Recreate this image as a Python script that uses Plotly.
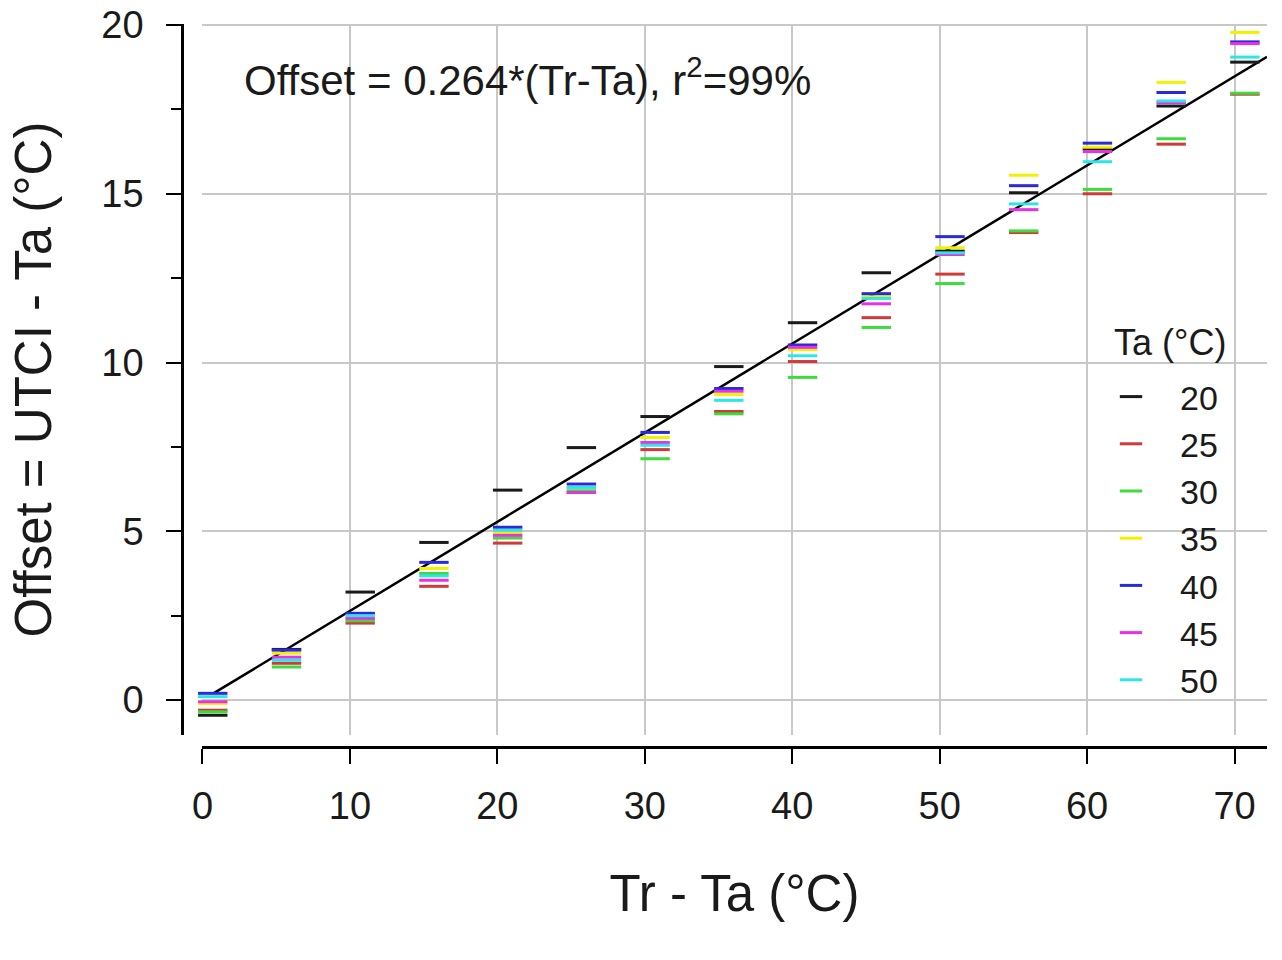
import plotly.graph_objects as go

# ---- data ----
tr_minus_ta = [0, 5, 10, 15, 20, 25, 30, 35, 40, 45, 50, 55, 60, 65, 70]
ta_levels = ["20", "25", "30", "35", "40", "45", "50"]

offset_ta20 = [-0.45, 1.50, 3.20, 4.67, 6.22, 7.48, 8.40, 9.88, 11.18, 12.66, 13.30, 15.03, 16.33, 17.60, 18.90]
offset_ta25 = [-0.30, 1.09, 2.28, 3.37, 4.65, 6.15, 7.42, 8.55, 10.03, 11.33, 12.62, 13.85, 15.00, 16.47, 17.95]
offset_ta30 = [-0.35, 0.98, 2.35, 3.75, 4.80, 6.20, 7.15, 8.48, 9.56, 11.04, 12.34, 13.90, 15.13, 16.63, 17.98]
offset_ta35 = [-0.10, 1.39, 2.45, 3.90, 4.95, 6.30, 7.78, 9.05, 10.38, 11.95, 13.40, 15.55, 16.38, 18.30, 19.78]
offset_ta40 = [0.20, 1.48, 2.57, 4.08, 5.12, 6.40, 7.93, 9.23, 10.52, 12.04, 13.73, 15.24, 16.50, 18.00, 19.50]
offset_ta45 = [-0.05, 1.27, 2.42, 3.55, 4.88, 6.15, 7.63, 9.15, 10.45, 11.74, 13.20, 14.53, 16.25, 17.70, 19.45]
offset_ta50 = [0.10, 1.18, 2.50, 3.68, 5.03, 6.30, 7.55, 8.88, 10.20, 11.90, 13.25, 14.70, 15.95, 17.75, 19.05]

fit_slope = 0.264
fit_x = [0.8, 72.2]

# ---- style ----
colors = ["#1a1a1a", "#d03a3a", "#3ddc3d", "#f2f200", "#2a2ad8", "#e632e6", "#2ee6e6"]
series = [offset_ta20, offset_ta25, offset_ta30, offset_ta35, offset_ta40, offset_ta45, offset_ta50]
dash_shift = 0.7  # dashes drawn just right of each x value
FONT = "Liberation Sans, Arial, sans-serif"
TXT = "#1a1a1a"

W, H = 1282, 960
L, R, T, B = 182, 15, 24, 213
pw = W - L - R
ph = H - T - B


def px_x(p):  # paper x fraction from pixel
    return (p - L) / pw


def px_y(p):  # paper y fraction from pixel
    return (H - B - p) / ph


fig = go.Figure()

fig.add_trace(go.Scatter(
    x=fit_x, y=[fit_slope * v for v in fit_x], mode="lines",
    line=dict(color="black", width=2.5), showlegend=False, hoverinfo="skip",
))

for name, vals, col in zip(ta_levels, series, colors):
    fig.add_trace(go.Scatter(
        x=[v + dash_shift for v in tr_minus_ta], y=vals, mode="markers", name=name,
        marker=dict(symbol="line-ew", size=21, color=col, line=dict(color=col, width=3)),
        cliponaxis=False,
    ))

fig.add_annotation(
    x=2.7, y=18.45, xref="x", yref="y", xanchor="left", yanchor="middle",
    text="Offset = 0.264*(Tr-Ta), r<sup>2</sup>=99%", showarrow=False,
    font=dict(size=42, color=TXT, family=FONT),
)

# white legend box covering the grid
fig.add_shape(type="rect", xref="paper", yref="paper", layer="below",
              x0=px_x(1088), x1=px_x(1253), y0=px_y(731), y1=px_y(300),
              fillcolor="white", line=dict(width=0))

# legend title
fig.add_annotation(
    x=px_x(1112), y=px_y(342), xref="paper", yref="paper", xanchor="left", yanchor="middle",
    text="Ta (°C)", showarrow=False, font=dict(size=36, color=TXT, family=FONT),
)

fig.update_layout(
    width=W, height=H,
    margin=dict(l=L, r=R, t=T, b=B, autoexpand=False),
    paper_bgcolor="white", plot_bgcolor="white",
    font=dict(family=FONT, color=TXT),
    showlegend=True,
    legend=dict(
        x=px_x(1082), y=px_y(368), xanchor="left", yanchor="top",
        bgcolor="rgba(0,0,0,0)", borderwidth=0,
        font=dict(size=34, family=FONT, color=TXT),
        itemwidth=88,
    ),
    xaxis=dict(
        domain=[px_x(202), 1], anchor="free", position=0, automargin=False,
        range=[-0.03, 72.2], tickmode="array", tickvals=list(range(0, 71, 10)),
        showgrid=True, gridcolor="#c8c8c8", gridwidth=2, zeroline=False,
        showline=True, linecolor="black", linewidth=2.5,
        ticks="outside", ticklen=15, tickwidth=2, tickcolor="black",
        ticklabelstandoff=10,
        tickfont=dict(size=38, family=FONT, color=TXT),
        title=dict(text="Tr - Ta (°C)", font=dict(size=51, family=FONT, color=TXT), standoff=48),
    ),
    yaxis=dict(
        domain=[px_y(735), 1], anchor="free", position=0, automargin=False,
        range=[-1.035, 20.03], tickmode="array", tickvals=[0, 5, 10, 15, 20],
        showgrid=True, gridcolor="#c8c8c8", gridwidth=2, zeroline=False,
        showline=True, linecolor="black", linewidth=2.5,
        ticks="outside", ticklen=15, tickwidth=2, tickcolor="black",
        ticklabelstandoff=15,
        minor=dict(tickvals=[2.5, 7.5, 12.5, 17.5], ticks="outside", ticklen=10, tickwidth=2,
                   tickcolor="black", showgrid=False),
        tickfont=dict(size=38, family=FONT, color=TXT),
        title=dict(text="Offset = UTCI - Ta (°C)", font=dict(size=51, family=FONT, color=TXT), standoff=32),
    ),
)

fig.write_html("out.html")
